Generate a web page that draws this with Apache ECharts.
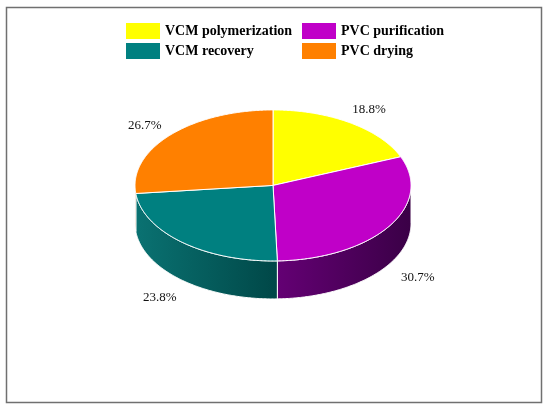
<!DOCTYPE html>
<html>
<head>
<meta charset="utf-8">
<script src="https://cdn.jsdelivr.net/npm/echarts@6/dist/echarts.min.js"></script>
<style>
  html, body { margin: 0; padding: 0; background: #fff; }
  #echart { width: 550px; height: 413px; }
</style>
</head>
<body>
<div id="echart"></div>
<script>
// energy share per process step, clockwise from 12 o'clock
var categories = ['VCM polymerization', 'PVC purification', 'VCM recovery', 'PVC drying'];
var shares = [18.8, 30.7, 23.8, 26.7];
var shareLabels = ['18.8%', '30.7%', '23.8%', '26.7%'];

var topColors = ['#ffff00', '#c000c8', '#008080', '#ff8000'];
var wallColors = [['#b3b300', '#7a7a00'], ['#640074', '#3a0046'], ['#0a7272', '#004747'], ['#b35a00', '#7a3d00']];

try {
    var chart_el = document.getElementById('echart');
    var chart = echarts.init(chart_el);

    var total = shares.reduce(function (a, b) { return a + b; }, 0);
    var depth = 38;
    var labelScale = 1.25;

    function renderSlice(params, api) {
        var i = params.dataIndex;
        var cx = api.getWidth() * 0.4964;
        var cy = api.getHeight() * 0.449;
        var rx = 138, ry = 75.5;
        var before = 0;
        for (var k = 0; k < i; k++) before += shares[k];
        var a0 = before / total * Math.PI * 2;
        var a1 = a0 + api.value(0) / total * Math.PI * 2;

        function pt(t, dy, s) {
            s = s || 1;
            return [cx + rx * s * Math.sin(t), cy - ry * s * Math.cos(t) + (dy || 0)];
        }
        function arc(from, to, dy) {
            var pts = [];
            var n = Math.max(2, Math.ceil(Math.abs(to - from) / 0.01));
            for (var j = 0; j <= n; j++) pts.push(pt(from + (to - from) * j / n, dy));
            return pts;
        }

        var children = [];
        // front wall (only the part facing the viewer)
        var w0 = Math.max(a0, Math.PI / 2), w1 = Math.min(a1, Math.PI * 1.5);
        if (w1 > w0) {
            var wall = arc(w0, w1, 0).concat(arc(w1, w0, depth));
            children.push({
                type: 'polygon',
                z2: 1,
                shape: { points: wall },
                style: {
                    fill: new echarts.graphic.LinearGradient(0, 0, 1, 0, [
                        { offset: 0, color: wallColors[i][0] },
                        { offset: 1, color: wallColors[i][1] }
                    ]),
                    stroke: '#ffffff',
                    lineWidth: 1
                }
            });
        }
        // top face
        children.push({
            type: 'polygon',
            z2: 10,
            shape: { points: [[cx, cy]].concat(arc(a0, a1, 0)) },
            style: { fill: topColors[i], stroke: '#ffffff', lineWidth: 1 }
        });
        // percentage label
        var mid = (a0 + a1) / 2;
        var lp = pt(mid, (Math.cos(mid) < 0 ? depth : 0) + 3, labelScale);
        children.push({
            type: 'text',
            z2: 20,
            x: lp[0],
            y: lp[1],
            style: {
                text: shareLabels[i],
                fill: '#111',
                fontSize: 13,
                fontFamily: 'Liberation Serif',
                align: 'center',
                verticalAlign: 'middle'
            }
        });
        return { type: 'group', children: children };
    }

    var legendPos = [[126, 23], [302, 23], [126, 43], [302, 43]];
    var legends = categories.map(function (name, i) {
        return {
            data: [name],
            left: legendPos[i][0],
            top: legendPos[i][1],
            padding: 0,
            icon: 'rect',
            itemWidth: 34,
            itemHeight: 16,
            itemGap: 5,
            selectedMode: false,
            textStyle: {
                fontFamily: 'Liberation Serif',
                fontWeight: 'bold',
                fontSize: 14,
                color: '#000',
                padding: [0, 0, 0, 0]
            }
        };
    });

    var series = [{
        type: 'custom',
        name: 'share',
        coordinateSystem: 'none',
        data: shares.map(function (v, i) { return { name: categories[i], value: [v] }; }),
        renderItem: renderSlice,
        silent: true
    }];
    categories.forEach(function (name, i) {
        series.push({
            type: 'custom',
            name: name,
            coordinateSystem: 'none',
            data: [],
            itemStyle: { color: topColors[i] },
            renderItem: function () { return null; }
        });
    });

    option = {
        animation: false,
        backgroundColor: '#ffffff',
        legend: legends,
        graphic: [{
            type: 'rect',
            shape: { x: 6.5, y: 7.5, width: 535, height: 395 },
            style: { fill: 'none', stroke: '#707070', lineWidth: 1.5 },
            silent: true
        }],
        series: series
    };
    chart.setOption(option);
} catch (error) {
    console.error(`Failed to draw chart`);
    console.error(error);
}
</script>
</body>
</html>
